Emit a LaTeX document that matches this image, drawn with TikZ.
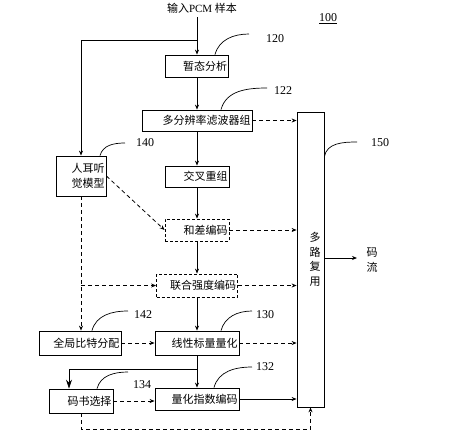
\documentclass[tikz,border=0pt]{standalone}
\usepackage{fontspec}
\setmainfont{Liberation Serif}
\newfontfamily\cjk{Noto Sans CJK SC}
\usetikzlibrary{arrows.meta}
\begin{document}
\begin{tikzpicture}[x=1pt,y=-1pt,
  box/.style={draw, line width=0.8pt, inner xsep=1.5pt, inner ysep=0pt, align=right,
    font=\cjk\fontsize{11}{15}\selectfont},
  dbox/.style={box, dash pattern=on 3pt off 2pt},
  conn/.style={line width=0.8pt, -{Stealth[length=5pt,width=4pt]}},
  bigconn/.style={line width=0.8pt, -{Stealth[length=9pt,width=6pt]}},
  dconn/.style={conn, dash pattern=on 4pt off 3pt},
  dline/.style={line width=0.8pt, dash pattern=on 4pt off 3pt},
  lead/.style={line width=0.7pt},
  num/.style={font=\fontsize{12}{14}\selectfont, inner sep=0pt},
  cj/.style={font=\cjk\fontsize{11}{14.5}\selectfont, inner sep=0pt, align=center}
]
\useasboundingbox (0,0) rectangle (474,445);

% title and reference number
\node[inner sep=0pt, font=\fontsize{11}{13}\selectfont] (title) at (202,8) {{\cjk 输入}PCM {\cjk 样本}};
\node[num] (n100) at (328,19) {\underline{100}};

% boxes
\node[box, text width=60pt, minimum height=22pt] (t120) at (197,66) {暂态分析};
\node[box, text width=107pt, minimum height=21pt] (f122) at (197,120.5) {多分辨率滤波器组};
\node[box, text width=47pt, minimum height=40pt] (m140) at (81,176) {人耳听\\觉模型};
\node[box, text width=61pt, minimum height=21pt] (x124) at (197,176.5) {交叉重组};
\node[dbox, text width=61pt, minimum height=22pt] (h126) at (197,230) {和差编码};
\node[dbox, text width=78pt, minimum height=23pt] (j128) at (197,285.5) {联合强度编码};
\node[box, text width=79pt, minimum height=24pt] (g142) at (80,343) {全局比特分配};
\node[box, text width=81pt, minimum height=24pt] (l130) at (197,343) {线性标量量化};
\node[box, text width=61pt, minimum height=24pt] (c134) at (81,401) {码书选择};
\node[box, text width=81pt, minimum height=22pt] (q132) at (197,399) {量化指数编码};
\node[box, inner xsep=3.5pt, text width=20pt, minimum height=295pt, font=\cjk\fontsize{11}{14.5}\selectfont] (mux) at (310.5,259.5) {多\\路\\复\\用};

% output
\coordinate (out) at (357,258);
\node[cj] (ml) at (372,260) {码\\流};

% main flow
\coordinate (s1) at (197,40);
\coordinate (s2) at (197,369);
\draw[conn] (title.south -| t120.north) ++(0,4) -- (t120.north);
\draw[conn] (s1) -| (m140.north);
\draw[conn] (t120) -- (f122);
\draw[conn] (f122) -- (x124);
\draw[conn] (x124) -- (h126);
\draw[conn] (h126) -- (j128);
\draw[conn] (j128) -- (l130);
\draw[conn] (l130) -- (q132);
\draw[bigconn] (s2) -| ([xshift=-12pt]c134.north);

% to multiplexer
\draw[dconn] (f122.east) -- (f122.east -| mux.west);
\draw[dconn] (h126.east) -- (h126.east -| mux.west);
\draw[dconn] (j128.east) -- (j128.east -| mux.west);
\draw[dconn] (l130.east) -- (l130.east -| mux.west);
\draw[conn] (q132.east) -- (q132.east -| mux.west);
\draw[conn] (mux.east |- out) -- (out);

% psychoacoustic model side
\draw[dconn] (m140.east) -- (h126.west);
\draw[dconn] (m140.south) -- (m140.south |- g142.north);
\coordinate (s3) at (m140.south |- j128.west);
\draw[dconn] (s3) -- (j128.west);
\draw[dconn] (g142.east) -- (l130.west);
\draw[dconn] (c134.east) -- (c134.east -| q132.west);
\draw[dconn] (c134.south) -- ++(0,16) -| (mux.south);

% leader curves and numbers
\coordinate (e120) at (249,34);
\coordinate (e122) at (267,88);
\coordinate (e140) at (125,143);
\coordinate (e150) at (357,142);
\coordinate (e142) at (128,311);
\coordinate (e130) at (252,311);
\coordinate (e134) at (128,372);
\coordinate (e132) at (252,367);
\draw[lead] ([xshift=18pt]t120.north) to[out=75,in=180] (e120);
\draw[lead] ([xshift=24pt]f122.north) to[out=75,in=180] (e122);
\draw[lead] ([xshift=19pt]m140.north) to[out=75,in=180] (e140);
\draw[lead] ([yshift=-45pt]mux.north east) to[out=80,in=180] (e150);
\draw[lead] ([xshift=12pt]g142.north) to[out=75,in=180] (e142);
\draw[lead] ([xshift=24pt]l130.north) to[out=75,in=180] (e130);
\draw[lead] ([xshift=16pt]c134.north) to[out=75,in=180] (e134);
\draw[lead] ([xshift=17pt]q132.north) to[out=75,in=180] (e132);
\node[num] (n120) at (275,39) {120};
\node[num] (n122) at (283,91) {122};
\node[num] (n140) at (145,143) {140};
\node[num] (n150) at (380,143) {150};
\node[num] (n142) at (143,315) {142};
\node[num] (n130) at (265,315) {130};
\node[num] (n134) at (142,385) {134};
\node[num] (n132) at (265,367) {132};
\end{tikzpicture}
\end{document}
